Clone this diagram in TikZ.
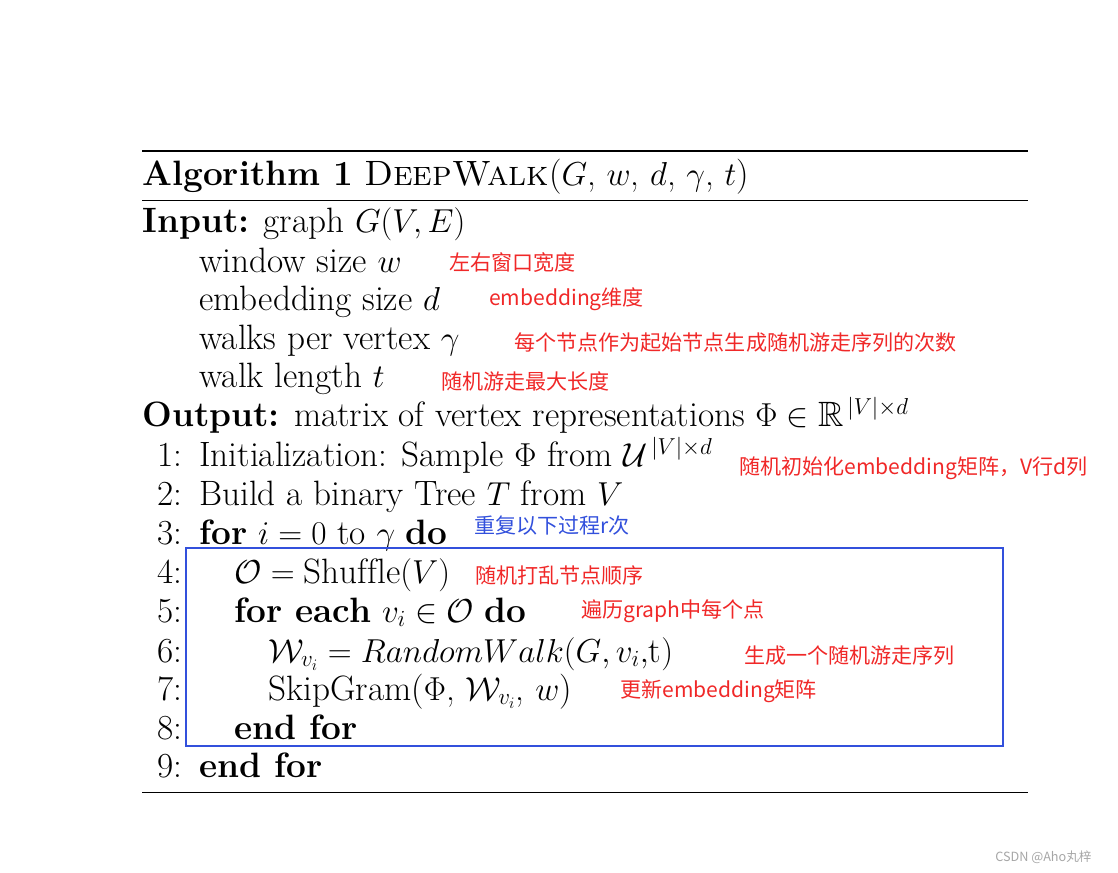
\documentclass[tikz,border=0pt]{standalone}
\usepackage{amsmath,amssymb}
\usepackage{fontspec}
\newfontfamily\cjk{Noto Sans CJK SC}
\definecolor{annred}{RGB}{240,40,40}
\definecolor{annblue}{RGB}{50,80,220}
\begin{document}
\begin{tikzpicture}[x=0.75pt,y=-0.75pt,
  txt/.style={anchor=base west,inner sep=0pt,font=\fontsize{26.4}{30}\selectfont},
  num/.style={anchor=base east,inner sep=0pt,font=\fontsize{26.4}{30}\selectfont},
  ann/.style={anchor=west,inner sep=0pt,text=annred,font=\cjk\fontsize{15.8}{18}\selectfont},
  rulel/.style={line width=0.6pt}]
\useasboundingbox (0,0) rectangle (1118,873);
\coordinate (r1a) at (142,151); \coordinate (r1b) at (1028,151);
\coordinate (r2a) at (142,200); \coordinate (r2b) at (1028,200);
\coordinate (r3a) at (142,792); \coordinate (r3b) at (1028,792);
\draw[line width=1.6pt] (r1a) -- (r1b);
\draw[rulel] (r2a) -- (r2b);
\draw[rulel] (r3a) -- (r3b);
\node[txt] (title) at (142,186) {\textbf{Algorithm 1} \textsc{DeepWalk}($G$, $w$, $d$, $\gamma$, $t$)};
\node[txt] (in) at (142,233) {\textbf{Input:} graph $G(V,E)$};
\node[txt] (ws) at (199,273) {window size $w$};
\node[txt] (es) at (199,311) {embedding size $d$};
\node[txt] (wp) at (199,350) {walks per vertex $\gamma$};
\node[txt] (wl) at (199,388) {walk length $t$};
\node[txt] (out) at (142,427) {\textbf{Output:} matrix of vertex representations $\Phi\in\mathbb{R}^{\,|V|\times d}$};
\node[num] (n1) at (183,467) {1:}; \node[txt] (l1) at (199,467) {Initialization: Sample $\Phi$ from $\mathcal{U}^{\,|V|\times d}$};
\node[num] (n2) at (183,506) {2:}; \node[txt] (l2) at (199,506) {Build a binary Tree $T$ from $V$};
\node[num] (n3) at (183,545) {3:}; \node[txt] (l3) at (199,545) {\textbf{for} $i=0$ to $\gamma$ \textbf{do}};
\node[num] (n4) at (183,583) {4:}; \node[txt] (l4) at (234,583) {$\mathcal{O}=\mathrm{Shuffle}(V)$};
\node[num] (n5) at (183,622) {5:}; \node[txt] (l5) at (234,622) {\textbf{for each} $v_i\in\mathcal{O}$ \textbf{do}};
\node[num] (n6) at (183,662) {6:}; \node[txt] (l6) at (268,662) {$\mathcal{W}_{v_i}=RandomWalk(G,v_i,$t$)$};
\node[num] (n7) at (183,700) {7:}; \node[txt] (l7) at (268,700) {SkipGram($\Phi$, $\mathcal{W}_{v_i}$, $w$)};
\node[num] (n8) at (183,739) {8:}; \node[txt] (l8) at (234,739) {\textbf{end for}};
\node[num] (n9) at (183,777) {9:}; \node[txt] (l9) at (199,777) {\textbf{end for}};
\coordinate (bxa) at (186,548); \coordinate (bxb) at (1003,746);
\draw[annblue,line width=1.5pt] (bxa) rectangle (bxb);
\node[ann] (a1) at (449,263) {左右窗口宽度};
\node[ann] (a2) at (489,299) {embedding维度};
\node[ann] (a3) at (514,343) {每个节点作为起始节点生成随机游走序列的次数};
\node[ann] (a4) at (441,381) {随机游走最大长度};
\node[ann] (a5) at (739,468) {随机初始化embedding矩阵，V行d列};
\node[ann,text=annblue] (a6) at (474,526) {重复以下过程r次};
\node[ann] (a7) at (475,575) {随机打乱节点顺序};
\node[ann] (a8) at (581,611) {遍历graph中每个点};
\node[ann] (a9) at (744,656) {生成一个随机游走序列};
\node[ann] (a10) at (620,691) {更新embedding矩阵};
\node[anchor=west,inner sep=0pt,text=gray!70,font=\cjk\fontsize{9.5}{11}\selectfont] (wm) at (995,857) {CSDN @Aho丸梓};
\end{tikzpicture}
\end{document}
